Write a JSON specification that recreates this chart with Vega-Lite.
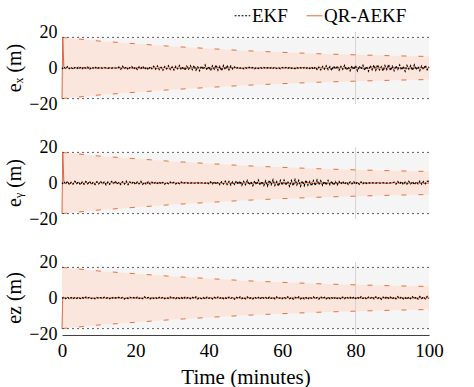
{
"$schema":"https://vega.github.io/schema/vega-lite/v6.json",
"padding":{"left":4,"top":6,"right":5,"bottom":0},
"config":{"font":"Liberation Serif","view":{"stroke":null},
"text":{"font":"Liberation Serif"},
"axisX":{"grid":false,"ticks":false,"labelFlush":false,"domainColor":"#404040","labelFontSize":19,"titleFontSize":21,"labelPadding":6,"titlePadding":6,"labelColor":"black","titleColor":"black","titleFontWeight":"normal","labelFont":"Liberation Serif","titleFont":"Liberation Serif"},
"axisY":{"grid":false,"ticks":false,"domain":false,"labelOverlap":false,"labelFontSize":18,"labelPadding":2,"labelColor":"black","labelFont":"Liberation Serif"},
"legend":{"labelFont":"Liberation Serif"},
"header":{"labelFont":"Liberation Serif, DejaVu Serif, serif"}},
"data":{"values":[
{"p":"x","t":0,"eh":17,"el":-17,"qh":17,"ql":-17},{"p":"x","t":10,"eh":17,"el":-17,"qh":15,"ql":-15},{"p":"x","t":20,"eh":17,"el":-17,"qh":13.5,"ql":-13.5},{"p":"x","t":30,"eh":17,"el":-17,"qh":12,"ql":-12},{"p":"x","t":40,"eh":17,"el":-17,"qh":10.8,"ql":-10.8},{"p":"x","t":50,"eh":17,"el":-17,"qh":9.6,"ql":-9.6},{"p":"x","t":60,"eh":17,"el":-17,"qh":8.7,"ql":-8.7},{"p":"x","t":70,"eh":17,"el":-17,"qh":7.9,"ql":-7.9},{"p":"x","t":80,"eh":17,"el":-17,"qh":7.3,"ql":-7.3},{"p":"x","t":90,"eh":17,"el":-17,"qh":6.8,"ql":-6.8},{"p":"x","t":100,"eh":17,"el":-17,"qh":6.4,"ql":-6.4},
{"p":"y","t":0,"eh":17,"el":-17,"qh":17,"ql":-17},{"p":"y","t":10,"eh":17,"el":-17,"qh":15,"ql":-15},{"p":"y","t":20,"eh":17,"el":-17,"qh":13.5,"ql":-13.5},{"p":"y","t":30,"eh":17,"el":-17,"qh":12,"ql":-12},{"p":"y","t":40,"eh":17,"el":-17,"qh":10.8,"ql":-10.8},{"p":"y","t":50,"eh":17,"el":-17,"qh":9.6,"ql":-9.6},{"p":"y","t":60,"eh":17,"el":-17,"qh":8.7,"ql":-8.7},{"p":"y","t":70,"eh":17,"el":-17,"qh":7.9,"ql":-7.9},{"p":"y","t":80,"eh":17,"el":-17,"qh":7.3,"ql":-7.3},{"p":"y","t":90,"eh":17,"el":-17,"qh":6.8,"ql":-6.8},{"p":"y","t":100,"eh":17,"el":-17,"qh":6.4,"ql":-6.4},
{"p":"z","t":0,"eh":17,"el":-17,"qh":17,"ql":-17},{"p":"z","t":10,"eh":17,"el":-17,"qh":15,"ql":-15},{"p":"z","t":20,"eh":17,"el":-17,"qh":13.5,"ql":-13.5},{"p":"z","t":30,"eh":17,"el":-17,"qh":12,"ql":-12},{"p":"z","t":40,"eh":17,"el":-17,"qh":10.8,"ql":-10.8},{"p":"z","t":50,"eh":17,"el":-17,"qh":9.6,"ql":-9.6},{"p":"z","t":60,"eh":17,"el":-17,"qh":8.7,"ql":-8.7},{"p":"z","t":70,"eh":17,"el":-17,"qh":7.9,"ql":-7.9},{"p":"z","t":80,"eh":17,"el":-17,"qh":7.3,"ql":-7.3},{"p":"z","t":90,"eh":17,"el":-17,"qh":6.8,"ql":-6.8},{"p":"z","t":100,"eh":17,"el":-17,"qh":6.4,"ql":-6.4},
{"p":"x","t":0,"e":0.2,"q":-17},{"p":"x","t":0.2,"e":-0.3,"q":17},
{"p":"x","t":0.5,"e":0.6,"q":0.6},{"p":"x","t":1,"e":-0.5,"q":-0.4},{"p":"x","t":1.5,"e":0.8,"q":0.5},{"p":"x","t":2,"e":-0.3,"q":-0.6},{"p":"x","t":2.5,"e":0.4,"q":0.3},{"p":"x","t":3,"e":-0.7,"q":-0.5},{"p":"x","t":3.5,"e":0.2,"q":0.4},{"p":"x","t":4,"e":0.5,"q":-0.3},{"p":"x","t":4.5,"e":-0.6,"q":0.5},{"p":"x","t":5,"e":0.3,"q":-0.2},
{"p":"x","t":5.5,"e":-0.4,"q":0.3},{"p":"x","t":6,"e":0.7,"q":-0.4},{"p":"x","t":6.5,"e":-0.2,"q":0.2},{"p":"x","t":7,"e":0.5,"q":-0.3},{"p":"x","t":7.5,"e":-0.8,"q":0.4},{"p":"x","t":8,"e":0.3,"q":-0.2},{"p":"x","t":8.5,"e":-0.1,"q":0.3},{"p":"x","t":9,"e":0.6,"q":-0.1},{"p":"x","t":9.5,"e":-0.5,"q":0.2},{"p":"x","t":10,"e":0.2,"q":-0.3},
{"p":"x","t":10.5,"e":0.1,"q":0.1},{"p":"x","t":11,"e":-0.1,"q":-0.2},{"p":"x","t":11.5,"e":0.2,"q":0.2},{"p":"x","t":12,"e":0.0,"q":-0.1},{"p":"x","t":12.5,"e":-0.2,"q":0.0},{"p":"x","t":13,"e":0.1,"q":0.2},{"p":"x","t":13.5,"e":-0.1,"q":-0.2},{"p":"x","t":14,"e":0.1,"q":0.1},{"p":"x","t":14.5,"e":0.0,"q":-0.1},{"p":"x","t":15,"e":-0.1,"q":0.1},
{"p":"x","t":15.5,"e":0.5,"q":-0.1},{"p":"x","t":16,"e":-0.7,"q":0.2},{"p":"x","t":16.5,"e":0.9,"q":-0.1},{"p":"x","t":17,"e":-0.4,"q":0.0},{"p":"x","t":17.5,"e":0.6,"q":0.2},{"p":"x","t":18,"e":-0.9,"q":-0.2},{"p":"x","t":18.5,"e":0.3,"q":0.1},{"p":"x","t":19,"e":0.8,"q":-0.2},{"p":"x","t":19.5,"e":-0.6,"q":0.1},{"p":"x","t":20,"e":0.4,"q":0.0},
{"p":"x","t":20.5,"e":-0.8,"q":0.2},{"p":"x","t":21,"e":0.6,"q":-0.1},{"p":"x","t":21.5,"e":-0.3,"q":0.1},{"p":"x","t":22,"e":1.0,"q":-0.2},{"p":"x","t":22.5,"e":-0.7,"q":0.1},{"p":"x","t":23,"e":0.5,"q":0.0},{"p":"x","t":23.5,"e":-1.0,"q":-0.1},{"p":"x","t":24,"e":0.7,"q":0.2},{"p":"x","t":24.5,"e":-0.4,"q":-0.2},{"p":"x","t":25,"e":0.9,"q":0.1},
{"p":"x","t":25.5,"e":-0.6,"q":0.1},{"p":"x","t":26,"e":1.1,"q":-0.2},{"p":"x","t":26.5,"e":-0.9,"q":0.2},{"p":"x","t":27,"e":0.4,"q":-0.1},{"p":"x","t":27.5,"e":-1.2,"q":0.0},{"p":"x","t":28,"e":0.8,"q":0.2},{"p":"x","t":28.5,"e":-0.5,"q":-0.2},{"p":"x","t":29,"e":1.2,"q":0.1},{"p":"x","t":29.5,"e":-0.8,"q":-0.1},{"p":"x","t":30,"e":0.6,"q":0.1},
{"p":"x","t":30.5,"e":-1.1,"q":-0.1},{"p":"x","t":31,"e":0.9,"q":0.2},{"p":"x","t":31.5,"e":-0.4,"q":-0.1},{"p":"x","t":32,"e":1.3,"q":0.0},{"p":"x","t":32.5,"e":-1.0,"q":0.2},{"p":"x","t":33,"e":0.7,"q":-0.2},{"p":"x","t":33.5,"e":-1.3,"q":0.1},{"p":"x","t":34,"e":1.0,"q":-0.2},{"p":"x","t":34.5,"e":-0.6,"q":0.1},{"p":"x","t":35,"e":1.2,"q":0.0},
{"p":"x","t":35.5,"e":-0.9,"q":0.2},{"p":"x","t":36,"e":1.4,"q":-0.1},{"p":"x","t":36.5,"e":-1.2,"q":0.1},{"p":"x","t":37,"e":0.6,"q":-0.2},{"p":"x","t":37.5,"e":-1.5,"q":0.1},{"p":"x","t":38,"e":1.1,"q":0.0},{"p":"x","t":38.5,"e":-0.7,"q":-0.1},{"p":"x","t":39,"e":1.6,"q":0.2},{"p":"x","t":39.5,"e":-1.1,"q":-0.2},{"p":"x","t":40,"e":0.8,"q":0.1},
{"p":"x","t":40.5,"e":-1.4,"q":0.1},{"p":"x","t":41,"e":1.2,"q":-0.2},{"p":"x","t":41.5,"e":-0.6,"q":0.2},{"p":"x","t":42,"e":1.7,"q":-0.1},{"p":"x","t":42.5,"e":-1.2,"q":0.0},{"p":"x","t":43,"e":0.9,"q":0.2},{"p":"x","t":43.5,"e":-1.5,"q":-0.2},{"p":"x","t":44,"e":1.3,"q":0.1},{"p":"x","t":44.5,"e":-0.8,"q":-0.1},{"p":"x","t":45,"e":1.5,"q":0.1},
{"p":"x","t":45.5,"e":-1.0,"q":-0.1},{"p":"x","t":46,"e":1.1,"q":0.2},{"p":"x","t":46.5,"e":-0.5,"q":-0.1},{"p":"x","t":47,"e":0.6,"q":0.0},{"p":"x","t":47.5,"e":-0.3,"q":0.2},{"p":"x","t":48,"e":0.4,"q":-0.2},{"p":"x","t":48.5,"e":-0.2,"q":0.1},{"p":"x","t":49,"e":0.3,"q":-0.2},{"p":"x","t":49.5,"e":-0.4,"q":0.1},{"p":"x","t":50,"e":0.2,"q":0.0},
{"p":"x","t":50.5,"e":-0.3,"q":0.2},{"p":"x","t":51,"e":0.4,"q":-0.1},{"p":"x","t":51.5,"e":-0.2,"q":0.1},{"p":"x","t":52,"e":0.3,"q":-0.2},{"p":"x","t":52.5,"e":-0.4,"q":0.1},{"p":"x","t":53,"e":0.2,"q":0.0},{"p":"x","t":53.5,"e":-0.3,"q":-0.1},{"p":"x","t":54,"e":0.4,"q":0.2},{"p":"x","t":54.5,"e":-0.2,"q":-0.2},{"p":"x","t":55,"e":0.3,"q":0.1},
{"p":"x","t":55.5,"e":-0.3,"q":0.1},{"p":"x","t":56,"e":0.2,"q":-0.2},{"p":"x","t":56.5,"e":-0.4,"q":0.2},{"p":"x","t":57,"e":0.3,"q":-0.1},{"p":"x","t":57.5,"e":-0.2,"q":0.0},{"p":"x","t":58,"e":0.4,"q":0.2},{"p":"x","t":58.5,"e":-0.3,"q":-0.2},{"p":"x","t":59,"e":0.2,"q":0.1},{"p":"x","t":59.5,"e":-0.4,"q":-0.1},{"p":"x","t":60,"e":0.3,"q":0.1},
{"p":"x","t":60.5,"e":-0.2,"q":-0.1},{"p":"x","t":61,"e":0.3,"q":0.2},{"p":"x","t":61.5,"e":-0.3,"q":-0.1},{"p":"x","t":62,"e":0.4,"q":0.0},{"p":"x","t":62.5,"e":-0.2,"q":0.2},{"p":"x","t":63,"e":0.2,"q":-0.2},{"p":"x","t":63.5,"e":-0.4,"q":0.1},{"p":"x","t":64,"e":0.3,"q":-0.2},{"p":"x","t":64.5,"e":-0.3,"q":0.1},{"p":"x","t":65,"e":0.2,"q":0.0},
{"p":"x","t":65.5,"e":-0.4,"q":0.2},{"p":"x","t":66,"e":0.3,"q":-0.1},{"p":"x","t":66.5,"e":-0.2,"q":0.1},{"p":"x","t":67,"e":0.4,"q":-0.2},{"p":"x","t":67.5,"e":-0.3,"q":0.1},{"p":"x","t":68,"e":0.5,"q":0.0},{"p":"x","t":68.5,"e":-0.7,"q":-0.1},{"p":"x","t":69,"e":0.6,"q":0.2},{"p":"x","t":69.5,"e":-0.8,"q":-0.2},{"p":"x","t":70,"e":0.5,"q":0.1},
{"p":"x","t":70.5,"e":-1.0,"q":0.1},{"p":"x","t":71,"e":0.8,"q":-0.2},{"p":"x","t":71.5,"e":-0.6,"q":0.2},{"p":"x","t":72,"e":1.2,"q":-0.1},{"p":"x","t":72.5,"e":-0.9,"q":0.0},{"p":"x","t":73,"e":0.7,"q":0.2},{"p":"x","t":73.5,"e":-1.3,"q":-0.2},{"p":"x","t":74,"e":1.0,"q":0.1},{"p":"x","t":74.5,"e":-0.5,"q":-0.1},{"p":"x","t":75,"e":1.1,"q":0.1},
{"p":"x","t":75.5,"e":-1.2,"q":-0.1},{"p":"x","t":76,"e":0.9,"q":0.2},{"p":"x","t":76.5,"e":-0.7,"q":-0.1},{"p":"x","t":77,"e":1.4,"q":0.0},{"p":"x","t":77.5,"e":-1.1,"q":0.2},{"p":"x","t":78,"e":0.6,"q":-0.2},{"p":"x","t":78.5,"e":-1.5,"q":0.1},{"p":"x","t":79,"e":1.2,"q":-0.2},{"p":"x","t":79.5,"e":-0.8,"q":0.1},{"p":"x","t":80,"e":1.3,"q":0.0},
{"p":"x","t":80.5,"e":-1.6,"q":0.2},{"p":"x","t":81,"e":1.0,"q":-0.1},{"p":"x","t":81.5,"e":-0.6,"q":0.1},{"p":"x","t":82,"e":1.5,"q":-0.2},{"p":"x","t":82.5,"e":-1.3,"q":0.1},{"p":"x","t":83,"e":0.8,"q":0.0},{"p":"x","t":83.5,"e":-1.7,"q":-0.1},{"p":"x","t":84,"e":1.4,"q":0.2},{"p":"x","t":84.5,"e":-0.9,"q":-0.2},{"p":"x","t":85,"e":1.6,"q":0.1},
{"p":"x","t":85.5,"e":-1.2,"q":0.1},{"p":"x","t":86,"e":1.8,"q":-0.2},{"p":"x","t":86.5,"e":-1.0,"q":0.2},{"p":"x","t":87,"e":0.7,"q":-0.1},{"p":"x","t":87.5,"e":-1.6,"q":0.0},{"p":"x","t":88,"e":1.3,"q":0.2},{"p":"x","t":88.5,"e":-0.8,"q":-0.2},{"p":"x","t":89,"e":1.9,"q":0.1},{"p":"x","t":89.5,"e":-1.4,"q":-0.1},{"p":"x","t":90,"e":1.0,"q":0.1},
{"p":"x","t":90.5,"e":-1.5,"q":-0.1},{"p":"x","t":91,"e":1.2,"q":0.2},{"p":"x","t":91.5,"e":-0.7,"q":-0.1},{"p":"x","t":92,"e":1.6,"q":0.0},{"p":"x","t":92.5,"e":-1.1,"q":0.2},{"p":"x","t":93,"e":0.9,"q":-0.2},{"p":"x","t":93.5,"e":-1.8,"q":0.1},{"p":"x","t":94,"e":1.4,"q":-0.2},{"p":"x","t":94.5,"e":-0.6,"q":0.1},{"p":"x","t":95,"e":1.3,"q":0.0},
{"p":"x","t":95.5,"e":-1.3,"q":0.2},{"p":"x","t":96,"e":1.7,"q":-0.1},{"p":"x","t":96.5,"e":-0.9,"q":0.1},{"p":"x","t":97,"e":0.8,"q":-0.2},{"p":"x","t":97.5,"e":-1.4,"q":0.1},{"p":"x","t":98,"e":1.1,"q":0.0},{"p":"x","t":98.5,"e":-0.7,"q":-0.1},{"p":"x","t":99,"e":1.5,"q":0.2},{"p":"x","t":99.5,"e":-1.0,"q":-0.2},{"p":"x","t":100,"e":0.6,"q":0.1},
{"p":"y","t":0,"e":0.2,"q":-17},{"p":"y","t":0.2,"e":-0.3,"q":17},
{"p":"y","t":0.5,"e":0.7,"q":0.8},{"p":"y","t":1,"e":-0.5,"q":-0.6},{"p":"y","t":1.5,"e":0.9,"q":0.7},{"p":"y","t":2,"e":-0.8,"q":-0.9},{"p":"y","t":2.5,"e":0.4,"q":0.5},{"p":"y","t":3,"e":-0.6,"q":-0.7},{"p":"y","t":3.5,"e":1.0,"q":0.9},{"p":"y","t":4,"e":-0.3,"q":-0.4},{"p":"y","t":4.5,"e":0.6,"q":0.6},{"p":"y","t":5,"e":-0.9,"q":-0.8},
{"p":"y","t":5.5,"e":0.5,"q":0.7},{"p":"y","t":6,"e":-0.7,"q":-0.5},{"p":"y","t":6.5,"e":0.8,"q":0.8},{"p":"y","t":7,"e":-0.4,"q":-0.6},{"p":"y","t":7.5,"e":0.9,"q":0.4},{"p":"y","t":8,"e":-0.6,"q":-0.7},{"p":"y","t":8.5,"e":0.3,"q":0.6},{"p":"y","t":9,"e":-0.8,"q":-0.5},{"p":"y","t":9.5,"e":0.7,"q":0.7},{"p":"y","t":10,"e":-0.5,"q":-0.4},
{"p":"y","t":10.5,"e":0.9,"q":0.5},{"p":"y","t":11,"e":-0.4,"q":-0.6},{"p":"y","t":11.5,"e":0.6,"q":0.4},{"p":"y","t":12,"e":-1.0,"q":-0.5},{"p":"y","t":12.5,"e":0.5,"q":0.6},{"p":"y","t":13,"e":-0.7,"q":-0.3},{"p":"y","t":13.5,"e":0.8,"q":0.5},{"p":"y","t":14,"e":-0.3,"q":-0.4},{"p":"y","t":14.5,"e":1.1,"q":0.3},{"p":"y","t":15,"e":-0.6,"q":-0.5},
{"p":"y","t":15.5,"e":0.4,"q":0.4},{"p":"y","t":16,"e":-0.8,"q":-0.3},{"p":"y","t":16.5,"e":0.7,"q":0.5},{"p":"y","t":17,"e":-0.5,"q":-0.4},{"p":"y","t":17.5,"e":1.0,"q":0.3},{"p":"y","t":18,"e":-0.9,"q":-0.2},{"p":"y","t":18.5,"e":0.6,"q":0.4},{"p":"y","t":19,"e":-0.4,"q":-0.3},{"p":"y","t":19.5,"e":0.8,"q":0.2},{"p":"y","t":20,"e":-0.7,"q":-0.3},
{"p":"y","t":20.5,"e":0.6,"q":0.1},{"p":"y","t":21,"e":-0.5,"q":-0.2},{"p":"y","t":21.5,"e":0.9,"q":0.2},{"p":"y","t":22,"e":-0.7,"q":-0.1},{"p":"y","t":22.5,"e":0.3,"q":0.0},{"p":"y","t":23,"e":-0.8,"q":0.2},{"p":"y","t":23.5,"e":0.7,"q":-0.2},{"p":"y","t":24,"e":-0.6,"q":0.1},{"p":"y","t":24.5,"e":0.5,"q":-0.1},{"p":"y","t":25,"e":-0.4,"q":0.1},
{"p":"y","t":25.5,"e":0.5,"q":-0.1},{"p":"y","t":26,"e":-0.3,"q":0.2},{"p":"y","t":26.5,"e":0.6,"q":-0.1},{"p":"y","t":27,"e":-0.5,"q":0.0},{"p":"y","t":27.5,"e":0.4,"q":0.2},{"p":"y","t":28,"e":-0.6,"q":-0.2},{"p":"y","t":28.5,"e":0.3,"q":0.1},{"p":"y","t":29,"e":-0.4,"q":-0.2},{"p":"y","t":29.5,"e":0.5,"q":0.1},{"p":"y","t":30,"e":-0.3,"q":0.0},
{"p":"y","t":30.5,"e":0.4,"q":0.2},{"p":"y","t":31,"e":-0.5,"q":-0.1},{"p":"y","t":31.5,"e":0.3,"q":0.1},{"p":"y","t":32,"e":-0.4,"q":-0.2},{"p":"y","t":32.5,"e":0.5,"q":0.1},{"p":"y","t":33,"e":-0.3,"q":0.0},{"p":"y","t":33.5,"e":0.2,"q":-0.1},{"p":"y","t":34,"e":-0.1,"q":0.2},{"p":"y","t":34.5,"e":0.1,"q":-0.2},{"p":"y","t":35,"e":-0.1,"q":0.1},
{"p":"y","t":35.5,"e":0.1,"q":0.1},{"p":"y","t":36,"e":0.0,"q":-0.2},{"p":"y","t":36.5,"e":-0.1,"q":0.2},{"p":"y","t":37,"e":0.1,"q":-0.1},{"p":"y","t":37.5,"e":-0.1,"q":0.0},{"p":"y","t":38,"e":0.0,"q":0.2},{"p":"y","t":38.5,"e":0.1,"q":-0.2},{"p":"y","t":39,"e":-0.1,"q":0.1},{"p":"y","t":39.5,"e":0.3,"q":-0.1},{"p":"y","t":40,"e":-0.4,"q":0.1},
{"p":"y","t":40.5,"e":0.6,"q":-0.1},{"p":"y","t":41,"e":-0.5,"q":0.2},{"p":"y","t":41.5,"e":0.8,"q":-0.1},{"p":"y","t":42,"e":-0.7,"q":0.0},{"p":"y","t":42.5,"e":0.5,"q":0.2},{"p":"y","t":43,"e":-0.9,"q":-0.2},{"p":"y","t":43.5,"e":0.7,"q":0.1},{"p":"y","t":44,"e":-0.6,"q":-0.2},{"p":"y","t":44.5,"e":1.0,"q":0.1},{"p":"y","t":45,"e":-0.8,"q":0.0},
{"p":"y","t":45.5,"e":0.9,"q":0.2},{"p":"y","t":46,"e":-1.1,"q":-0.1},{"p":"y","t":46.5,"e":0.6,"q":0.1},{"p":"y","t":47,"e":-0.8,"q":-0.2},{"p":"y","t":47.5,"e":1.2,"q":0.1},{"p":"y","t":48,"e":-0.7,"q":0.0},{"p":"y","t":48.5,"e":1.0,"q":-0.1},{"p":"y","t":49,"e":-1.3,"q":0.2},{"p":"y","t":49.5,"e":0.8,"q":-0.2},{"p":"y","t":50,"e":-0.9,"q":0.1},
{"p":"y","t":50.5,"e":1.4,"q":0.1},{"p":"y","t":51,"e":-1.0,"q":-0.2},{"p":"y","t":51.5,"e":0.7,"q":0.2},{"p":"y","t":52,"e":-1.5,"q":-0.1},{"p":"y","t":52.5,"e":1.1,"q":0.0},{"p":"y","t":53,"e":-0.9,"q":0.2},{"p":"y","t":53.5,"e":1.6,"q":-0.2},{"p":"y","t":54,"e":-1.2,"q":0.1},{"p":"y","t":54.5,"e":0.8,"q":-0.1},{"p":"y","t":55,"e":-1.4,"q":0.1},
{"p":"y","t":55.5,"e":1.2,"q":-0.1},{"p":"y","t":56,"e":-1.6,"q":0.2},{"p":"y","t":56.5,"e":1.5,"q":-0.1},{"p":"y","t":57,"e":-0.9,"q":0.0},{"p":"y","t":57.5,"e":1.8,"q":0.2},{"p":"y","t":58,"e":-1.3,"q":-0.2},{"p":"y","t":58.5,"e":0.7,"q":0.1},{"p":"y","t":59,"e":-1.7,"q":-0.2},{"p":"y","t":59.5,"e":1.4,"q":0.1},{"p":"y","t":60,"e":-1.1,"q":0.0},
{"p":"y","t":60.5,"e":1.6,"q":0.2},{"p":"y","t":61,"e":-1.2,"q":-0.1},{"p":"y","t":61.5,"e":0.9,"q":0.1},{"p":"y","t":62,"e":-1.8,"q":-0.2},{"p":"y","t":62.5,"e":1.3,"q":0.1},{"p":"y","t":63,"e":-1.5,"q":0.0},{"p":"y","t":63.5,"e":1.9,"q":-0.1},{"p":"y","t":64,"e":-1.0,"q":0.2},{"p":"y","t":64.5,"e":1.4,"q":-0.2},{"p":"y","t":65,"e":-1.7,"q":0.1},
{"p":"y","t":65.5,"e":1.1,"q":0.1},{"p":"y","t":66,"e":-1.5,"q":-0.2},{"p":"y","t":66.5,"e":1.6,"q":0.2},{"p":"y","t":67,"e":-1.2,"q":-0.1},{"p":"y","t":67.5,"e":0.8,"q":0.0},{"p":"y","t":68,"e":-1.6,"q":0.2},{"p":"y","t":68.5,"e":1.3,"q":-0.2},{"p":"y","t":69,"e":-1.4,"q":0.1},{"p":"y","t":69.5,"e":1.7,"q":-0.1},{"p":"y","t":70,"e":-0.9,"q":0.1},
{"p":"y","t":70.5,"e":1.2,"q":-0.1},{"p":"y","t":71,"e":-1.3,"q":0.2},{"p":"y","t":71.5,"e":0.8,"q":-0.1},{"p":"y","t":72,"e":-1.1,"q":0.0},{"p":"y","t":72.5,"e":1.4,"q":0.2},{"p":"y","t":73,"e":-0.9,"q":-0.2},{"p":"y","t":73.5,"e":1.0,"q":0.1},{"p":"y","t":74,"e":-1.2,"q":-0.2},{"p":"y","t":74.5,"e":0.7,"q":0.1},{"p":"y","t":75,"e":-1.0,"q":0.0},
{"p":"y","t":75.5,"e":0.8,"q":0.2},{"p":"y","t":76,"e":-0.6,"q":-0.1},{"p":"y","t":76.5,"e":0.9,"q":0.1},{"p":"y","t":77,"e":-0.7,"q":-0.2},{"p":"y","t":77.5,"e":0.5,"q":0.1},{"p":"y","t":78,"e":-0.8,"q":0.0},{"p":"y","t":78.5,"e":0.6,"q":-0.1},{"p":"y","t":79,"e":-0.5,"q":0.2},{"p":"y","t":79.5,"e":0.7,"q":-0.2},{"p":"y","t":80,"e":-0.6,"q":0.1},
{"p":"y","t":80.5,"e":0.5,"q":0.1},{"p":"y","t":81,"e":-0.7,"q":-0.2},{"p":"y","t":81.5,"e":0.6,"q":0.2},{"p":"y","t":82,"e":-0.4,"q":-0.1},{"p":"y","t":82.5,"e":0.5,"q":0.0},{"p":"y","t":83,"e":-0.3,"q":0.2},{"p":"y","t":83.5,"e":0.2,"q":-0.2},{"p":"y","t":84,"e":-0.1,"q":0.1},{"p":"y","t":84.5,"e":0.1,"q":-0.1},{"p":"y","t":85,"e":0.0,"q":0.1},
{"p":"y","t":85.5,"e":-0.1,"q":-0.1},{"p":"y","t":86,"e":0.1,"q":0.2},{"p":"y","t":86.5,"e":0.0,"q":-0.1},{"p":"y","t":87,"e":-0.1,"q":0.0},{"p":"y","t":87.5,"e":0.1,"q":0.2},{"p":"y","t":88,"e":0.0,"q":-0.2},{"p":"y","t":88.5,"e":-0.1,"q":0.1},{"p":"y","t":89,"e":0.1,"q":-0.2},{"p":"y","t":89.5,"e":0.0,"q":0.1},{"p":"y","t":90,"e":0.2,"q":0.0},
{"p":"y","t":90.5,"e":0.5,"q":0.2},{"p":"y","t":91,"e":-0.6,"q":-0.1},{"p":"y","t":91.5,"e":0.8,"q":0.1},{"p":"y","t":92,"e":-0.4,"q":-0.2},{"p":"y","t":92.5,"e":0.7,"q":0.1},{"p":"y","t":93,"e":-0.8,"q":0.0},{"p":"y","t":93.5,"e":0.5,"q":-0.1},{"p":"y","t":94,"e":-0.6,"q":0.2},{"p":"y","t":94.5,"e":0.9,"q":-0.2},{"p":"y","t":95,"e":-0.5,"q":0.1},
{"p":"y","t":95.5,"e":0.7,"q":0.1},{"p":"y","t":96,"e":-0.9,"q":-0.2},{"p":"y","t":96.5,"e":0.6,"q":0.2},{"p":"y","t":97,"e":-0.5,"q":-0.1},{"p":"y","t":97.5,"e":1.0,"q":0.0},{"p":"y","t":98,"e":-0.7,"q":0.2},{"p":"y","t":98.5,"e":0.8,"q":-0.2},{"p":"y","t":99,"e":-0.4,"q":0.1},{"p":"y","t":99.5,"e":0.9,"q":-0.1},{"p":"y","t":100,"e":1.1,"q":0.1},
{"p":"z","t":0,"e":0.2,"q":-17},{"p":"z","t":0.2,"e":-0.1,"q":0.3},
{"p":"z","t":0.5,"e":0.4,"q":0.5},{"p":"z","t":1,"e":-0.3,"q":-0.4},{"p":"z","t":1.5,"e":0.5,"q":0.3},{"p":"z","t":2,"e":-0.4,"q":-0.5},{"p":"z","t":2.5,"e":0.2,"q":0.4},{"p":"z","t":3,"e":-0.5,"q":-0.2},{"p":"z","t":3.5,"e":0.3,"q":0.3},{"p":"z","t":4,"e":-0.2,"q":-0.3},{"p":"z","t":4.5,"e":0.4,"q":0.2},{"p":"z","t":5,"e":-0.3,"q":-0.2},
{"p":"z","t":5.5,"e":0.3,"q":-0.1},{"p":"z","t":6,"e":-0.4,"q":0.2},{"p":"z","t":6.5,"e":0.5,"q":-0.1},{"p":"z","t":7,"e":-0.2,"q":0.0},{"p":"z","t":7.5,"e":0.4,"q":0.2},{"p":"z","t":8,"e":-0.3,"q":-0.2},{"p":"z","t":8.5,"e":0.2,"q":0.1},{"p":"z","t":9,"e":-0.4,"q":-0.2},{"p":"z","t":9.5,"e":0.3,"q":0.1},{"p":"z","t":10,"e":-0.1,"q":0.0},
{"p":"z","t":10.5,"e":0.2,"q":0.2},{"p":"z","t":11,"e":-0.3,"q":-0.1},{"p":"z","t":11.5,"e":0.4,"q":0.1},{"p":"z","t":12,"e":-0.2,"q":-0.2},{"p":"z","t":12.5,"e":0.3,"q":0.1},{"p":"z","t":13,"e":-0.4,"q":0.0},{"p":"z","t":13.5,"e":0.5,"q":-0.1},{"p":"z","t":14,"e":-0.3,"q":0.2},{"p":"z","t":14.5,"e":0.2,"q":-0.2},{"p":"z","t":15,"e":-0.2,"q":0.1},
{"p":"z","t":15.5,"e":0.4,"q":0.1},{"p":"z","t":16,"e":-0.2,"q":-0.2},{"p":"z","t":16.5,"e":0.3,"q":0.2},{"p":"z","t":17,"e":-0.5,"q":-0.1},{"p":"z","t":17.5,"e":0.2,"q":0.0},{"p":"z","t":18,"e":-0.3,"q":0.2},{"p":"z","t":18.5,"e":0.4,"q":-0.2},{"p":"z","t":19,"e":-0.1,"q":0.1},{"p":"z","t":19.5,"e":0.3,"q":-0.1},{"p":"z","t":20,"e":-0.4,"q":0.1},
{"p":"z","t":20.5,"e":0.5,"q":-0.1},{"p":"z","t":21,"e":-0.3,"q":0.2},{"p":"z","t":21.5,"e":0.2,"q":-0.1},{"p":"z","t":22,"e":-0.4,"q":0.0},{"p":"z","t":22.5,"e":0.6,"q":0.2},{"p":"z","t":23,"e":-0.2,"q":-0.2},{"p":"z","t":23.5,"e":0.3,"q":0.1},{"p":"z","t":24,"e":-0.5,"q":-0.2},{"p":"z","t":24.5,"e":0.4,"q":0.1},{"p":"z","t":25,"e":-0.3,"q":0.0},
{"p":"z","t":25.5,"e":0.3,"q":0.2},{"p":"z","t":26,"e":-0.5,"q":-0.1},{"p":"z","t":26.5,"e":0.4,"q":0.1},{"p":"z","t":27,"e":-0.2,"q":-0.2},{"p":"z","t":27.5,"e":0.5,"q":0.1},{"p":"z","t":28,"e":-0.4,"q":0.0},{"p":"z","t":28.5,"e":0.2,"q":-0.1},{"p":"z","t":29,"e":-0.3,"q":0.2},{"p":"z","t":29.5,"e":0.6,"q":-0.2},{"p":"z","t":30,"e":-0.2,"q":0.1},
{"p":"z","t":30.5,"e":0.2,"q":0.1},{"p":"z","t":31,"e":-0.4,"q":-0.2},{"p":"z","t":31.5,"e":0.5,"q":0.2},{"p":"z","t":32,"e":-0.3,"q":-0.1},{"p":"z","t":32.5,"e":0.3,"q":0.0},{"p":"z","t":33,"e":-0.6,"q":0.2},{"p":"z","t":33.5,"e":0.4,"q":-0.2},{"p":"z","t":34,"e":-0.2,"q":0.1},{"p":"z","t":34.5,"e":0.5,"q":-0.1},{"p":"z","t":35,"e":-0.4,"q":0.1},
{"p":"z","t":35.5,"e":0.4,"q":-0.1},{"p":"z","t":36,"e":-0.3,"q":0.2},{"p":"z","t":36.5,"e":0.6,"q":-0.1},{"p":"z","t":37,"e":-0.5,"q":0.0},{"p":"z","t":37.5,"e":0.2,"q":0.2},{"p":"z","t":38,"e":-0.4,"q":-0.2},{"p":"z","t":38.5,"e":0.3,"q":0.1},{"p":"z","t":39,"e":-0.6,"q":-0.2},{"p":"z","t":39.5,"e":0.5,"q":0.1},{"p":"z","t":40,"e":-0.2,"q":0.0},
{"p":"z","t":40.5,"e":0.3,"q":0.2},{"p":"z","t":41,"e":-0.5,"q":-0.1},{"p":"z","t":41.5,"e":0.4,"q":0.1},{"p":"z","t":42,"e":-0.3,"q":-0.2},{"p":"z","t":42.5,"e":0.6,"q":0.1},{"p":"z","t":43,"e":-0.2,"q":0.0},{"p":"z","t":43.5,"e":0.5,"q":-0.1},{"p":"z","t":44,"e":-0.4,"q":0.2},{"p":"z","t":44.5,"e":0.2,"q":-0.2},{"p":"z","t":45,"e":-0.5,"q":0.1},
{"p":"z","t":45.5,"e":0.5,"q":0.1},{"p":"z","t":46,"e":-0.2,"q":-0.2},{"p":"z","t":46.5,"e":0.3,"q":0.2},{"p":"z","t":47,"e":-0.6,"q":-0.1},{"p":"z","t":47.5,"e":0.4,"q":0.0},{"p":"z","t":48,"e":-0.3,"q":0.2},{"p":"z","t":48.5,"e":0.6,"q":-0.2},{"p":"z","t":49,"e":-0.4,"q":0.1},{"p":"z","t":49.5,"e":0.3,"q":-0.1},{"p":"z","t":50,"e":-0.5,"q":0.1},
{"p":"z","t":50.5,"e":0.6,"q":-0.1},{"p":"z","t":51,"e":-0.4,"q":0.2},{"p":"z","t":51.5,"e":0.2,"q":-0.1},{"p":"z","t":52,"e":-0.5,"q":0.0},{"p":"z","t":52.5,"e":0.5,"q":0.2},{"p":"z","t":53,"e":-0.3,"q":-0.2},{"p":"z","t":53.5,"e":0.4,"q":0.1},{"p":"z","t":54,"e":-0.6,"q":-0.2},{"p":"z","t":54.5,"e":0.7,"q":0.1},{"p":"z","t":55,"e":-0.2,"q":0.0},
{"p":"z","t":55.5,"e":0.3,"q":0.2},{"p":"z","t":56,"e":-0.6,"q":-0.1},{"p":"z","t":56.5,"e":0.5,"q":0.1},{"p":"z","t":57,"e":-0.2,"q":-0.2},{"p":"z","t":57.5,"e":0.4,"q":0.1},{"p":"z","t":58,"e":-0.5,"q":0.0},{"p":"z","t":58.5,"e":0.6,"q":-0.1},{"p":"z","t":59,"e":-0.3,"q":0.2},{"p":"z","t":59.5,"e":0.2,"q":-0.2},{"p":"z","t":60,"e":-0.4,"q":0.1},
{"p":"z","t":60.5,"e":0.5,"q":0.1},{"p":"z","t":61,"e":-0.3,"q":-0.2},{"p":"z","t":61.5,"e":0.7,"q":0.2},{"p":"z","t":62,"e":-0.4,"q":-0.1},{"p":"z","t":62.5,"e":0.3,"q":0.0},{"p":"z","t":63,"e":-0.6,"q":0.2},{"p":"z","t":63.5,"e":0.4,"q":-0.2},{"p":"z","t":64,"e":-0.2,"q":0.1},{"p":"z","t":64.5,"e":0.6,"q":-0.1},{"p":"z","t":65,"e":-0.5,"q":0.1},
{"p":"z","t":65.5,"e":0.4,"q":-0.1},{"p":"z","t":66,"e":-0.5,"q":0.2},{"p":"z","t":66.5,"e":0.3,"q":-0.1},{"p":"z","t":67,"e":-0.7,"q":0.0},{"p":"z","t":67.5,"e":0.5,"q":0.2},{"p":"z","t":68,"e":-0.2,"q":-0.2},{"p":"z","t":68.5,"e":0.6,"q":0.1},{"p":"z","t":69,"e":-0.4,"q":-0.2},{"p":"z","t":69.5,"e":0.3,"q":0.1},{"p":"z","t":70,"e":-0.6,"q":0.0},
{"p":"z","t":70.5,"e":0.7,"q":0.2},{"p":"z","t":71,"e":-0.3,"q":-0.1},{"p":"z","t":71.5,"e":0.4,"q":0.1},{"p":"z","t":72,"e":-0.5,"q":-0.2},{"p":"z","t":72.5,"e":0.6,"q":0.1},{"p":"z","t":73,"e":-0.4,"q":0.0},{"p":"z","t":73.5,"e":0.2,"q":-0.1},{"p":"z","t":74,"e":-0.6,"q":0.2},{"p":"z","t":74.5,"e":0.5,"q":-0.2},{"p":"z","t":75,"e":-0.3,"q":0.1},
{"p":"z","t":75.5,"e":0.3,"q":0.1},{"p":"z","t":76,"e":-0.6,"q":-0.2},{"p":"z","t":76.5,"e":0.5,"q":0.2},{"p":"z","t":77,"e":-0.4,"q":-0.1},{"p":"z","t":77.5,"e":0.7,"q":0.0},{"p":"z","t":78,"e":-0.2,"q":0.2},{"p":"z","t":78.5,"e":0.4,"q":-0.2},{"p":"z","t":79,"e":-0.5,"q":0.1},{"p":"z","t":79.5,"e":0.6,"q":-0.1},{"p":"z","t":80,"e":-0.3,"q":0.1},
{"p":"z","t":80.5,"e":0.5,"q":-0.1},{"p":"z","t":81,"e":-0.4,"q":0.2},{"p":"z","t":81.5,"e":0.8,"q":-0.1},{"p":"z","t":82,"e":-0.3,"q":0.0},{"p":"z","t":82.5,"e":0.4,"q":0.2},{"p":"z","t":83,"e":-0.6,"q":-0.2},{"p":"z","t":83.5,"e":0.5,"q":0.1},{"p":"z","t":84,"e":-0.2,"q":-0.2},{"p":"z","t":84.5,"e":0.7,"q":0.1},{"p":"z","t":85,"e":-0.5,"q":0.0},
{"p":"z","t":85.5,"e":0.6,"q":0.2},{"p":"z","t":86,"e":-0.3,"q":-0.1},{"p":"z","t":86.5,"e":0.4,"q":0.1},{"p":"z","t":87,"e":-0.7,"q":-0.2},{"p":"z","t":87.5,"e":0.5,"q":0.1},{"p":"z","t":88,"e":-0.4,"q":0.0},{"p":"z","t":88.5,"e":0.8,"q":-0.1},{"p":"z","t":89,"e":-0.3,"q":0.2},{"p":"z","t":89.5,"e":0.5,"q":-0.2},{"p":"z","t":90,"e":-0.6,"q":0.1},
{"p":"z","t":90.5,"e":0.4,"q":0.1},{"p":"z","t":91,"e":-0.5,"q":-0.2},{"p":"z","t":91.5,"e":0.7,"q":0.2},{"p":"z","t":92,"e":-0.3,"q":-0.1},{"p":"z","t":92.5,"e":0.6,"q":0.0},{"p":"z","t":93,"e":-0.5,"q":0.2},{"p":"z","t":93.5,"e":0.3,"q":-0.2},{"p":"z","t":94,"e":-0.7,"q":0.1},{"p":"z","t":94.5,"e":0.6,"q":-0.1},{"p":"z","t":95,"e":-0.4,"q":0.1},
{"p":"z","t":95.5,"e":0.7,"q":-0.1},{"p":"z","t":96,"e":-0.4,"q":0.2},{"p":"z","t":96.5,"e":0.5,"q":-0.1},{"p":"z","t":97,"e":-0.6,"q":0.0},{"p":"z","t":97.5,"e":0.8,"q":0.2},{"p":"z","t":98,"e":-0.3,"q":-0.2},{"p":"z","t":98.5,"e":0.6,"q":0.1},{"p":"z","t":99,"e":-0.5,"q":-0.2},{"p":"z","t":99.5,"e":0.9,"q":0.1},{"p":"z","t":100,"e":-0.2,"q":0.0}
]},
"facet":{"row":{"field":"p","type":"nominal","sort":["x","y","z"],"title":null,"header":{"labelExpr":"datum.value=='x'?'eₓ  (m)':datum.value=='y'?'eᵧ  (m)':'eᴢ  (m)'","labelAngle":-90,"labelFont":"Liberation Serif, DejaVu Serif, serif","labelFontSize":20,"labelPadding":-6,"labelColor":"black"}}},
"spacing":{"row":41},
"spec":{"width":367,"height":72,
"encoding":{"x":{"field":"t","type":"quantitative","scale":{"domain":[0,100],"nice":false},"axis":{"title":"Time (minutes)","values":[0,20,40,60,80,100]}}},
"layer":[
{"transform":[{"filter":"isValid(datum.eh)"}],"mark":{"type":"area","color":"#f5f5f5"},"encoding":{"y":{"field":"el","type":"quantitative","scale":{"domain":[-20,20],"nice":false},"axis":{"title":null,"tickCount":2}},"y2":{"field":"eh"}}},
{"transform":[{"filter":"isValid(datum.qh)"}],"mark":{"type":"area","color":"#fbe6dd"},"encoding":{"y":{"field":"ql","type":"quantitative"},"y2":{"field":"qh"}}},
{"transform":[{"filter":"isValid(datum.eh) && datum.t==80"}],"mark":{"type":"rule","color":"#d4d4d4","strokeWidth":1},"encoding":{}},
{"transform":[{"filter":"isValid(datum.qh)"}],"mark":{"type":"line","color":"#D95319","strokeWidth":0.8,"strokeDash":[5,12]},"encoding":{"y":{"field":"qh","type":"quantitative"}}},
{"transform":[{"filter":"isValid(datum.qh)"}],"mark":{"type":"line","color":"#D95319","strokeWidth":0.8,"strokeDash":[5,12]},"encoding":{"y":{"field":"ql","type":"quantitative"}}},
{"transform":[{"filter":"isValid(datum.eh)"}],"mark":{"type":"line","color":"#333333","strokeWidth":0.8,"strokeDash":[2,3]},"encoding":{"y":{"field":"eh","type":"quantitative"}}},
{"transform":[{"filter":"isValid(datum.eh)"}],"mark":{"type":"line","color":"#333333","strokeWidth":0.8,"strokeDash":[2,3]},"encoding":{"y":{"field":"el","type":"quantitative"}}},
{"transform":[{"filter":"isValid(datum.e)"}],"mark":{"type":"line","strokeWidth":1},"encoding":{"y":{"field":"q","type":"quantitative"},
"color":{"datum":"QR-AEKF","type":"nominal","scale":{"domain":["EKF","QR-AEKF"],"range":["#000000","#D95319"]},"legend":{"title":null,"orient":"none","legendX":171,"legendY":-26,"direction":"horizontal","labelFont":"Liberation Serif","labelFontSize":19,"labelColor":"black","symbolType":"stroke","symbolSize":250,"symbolStrokeWidth":1,"columnPadding":16,"labelOffset":0}},
"strokeDash":{"datum":"QR-AEKF","type":"nominal","scale":{"domain":["EKF","QR-AEKF"],"range":[[2,1.5],[1,0]]},"legend":{"title":null,"orient":"none","legendX":171,"legendY":-26,"direction":"horizontal","labelFont":"Liberation Serif","labelFontSize":19,"labelColor":"black","symbolType":"stroke","symbolSize":250,"symbolStrokeWidth":1,"columnPadding":16,"labelOffset":0}}}},
{"transform":[{"filter":"isValid(datum.e)"}],"mark":{"type":"line","strokeWidth":1.2},"encoding":{"y":{"field":"e","type":"quantitative"},
"color":{"datum":"EKF","type":"nominal"},"strokeDash":{"datum":"EKF","type":"nominal"}}}
]}
}
